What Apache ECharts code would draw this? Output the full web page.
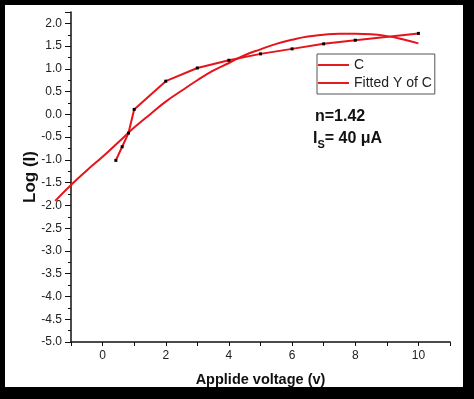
<!DOCTYPE html>
<html>
<head>
<meta charset="utf-8">
<script src="https://cdn.jsdelivr.net/npm/echarts@6/dist/echarts.min.js"></script>
<style>
  html, body { margin: 0; padding: 0; background: #000; }
  #main { width: 474px; height: 399px; }
</style>
</head>
<body>
<div id="main"></div>
<script>
// measured points (C)
var cX = [0.42, 0.62, 0.82, 1.0, 2.0, 3.0, 4.0, 5.0, 6.0, 7.0, 8.0, 10.0];
var cY = [-1.01, -0.71, -0.41, 0.11, 0.73, 1.02, 1.19, 1.33, 1.44, 1.55, 1.63, 1.78];
// fitted curve (Fitted Y of C)
var fitX = [-1.5, -1, -0.5, 0, 0.5, 1, 1.5, 2, 2.5, 3, 3.5, 4, 4.5, 5, 5.5, 6, 6.5, 7, 7.5, 8, 8.5, 9, 9.5, 10];
var fitY = [-1.90, -1.55, -1.23, -0.93, -0.61, -0.29, 0.00, 0.28, 0.52, 0.75, 0.96, 1.13, 1.30, 1.43, 1.55, 1.64, 1.71, 1.75, 1.77, 1.77, 1.76, 1.72, 1.65, 1.56];

var names = ['C', 'Fitted Y of C'];
var red = '#e5141b';

function pairs(xs, ys) {
  var out = [];
  for (var i = 0; i < xs.length; i++) out.push([xs[i], ys[i]]);
  return out;
}

var chart = echarts.init(document.getElementById('main'));
var lineIcon = 'path://M0,0H32V2H0Z';
var option = {
  backgroundColor: '#000',
  animation: false,
  textStyle: { fontFamily: 'Liberation Sans, Arial, sans-serif' },
  graphic: [
    {
      type: 'rect', left: 5, top: 5, z: -10,
      shape: { width: 458, height: 382 },
      style: { fill: '#fff' }
    },
    {
      type: 'text', left: 315, top: 109, z: 10,
      style: { text: 'n=1.42', font: 'bold 16px Liberation Sans, Arial', fill: '#111' }
    },
    {
      type: 'text', left: 313, top: 131, z: 10,
      style: {
        text: '{a|I}{s|S}{a|= 40 μA}',
        rich: {
          a: { font: 'bold 16px Liberation Sans, Arial', fill: '#111', verticalAlign: 'top' },
          s: { font: 'bold 11px Liberation Sans, Arial', fill: '#111', padding: [8, 0, 0, 0] }
        }
      }
    }
  ],
  legend: {
    data: [
      { name: names[0], icon: lineIcon, itemStyle: { color: red } },
      { name: names[1], icon: lineIcon, itemStyle: { color: red } }
    ],
    orient: 'vertical',
    left: 317,
    top: 54,
    padding: [3, 3, 3, 1],
    itemGap: 2,
    itemWidth: 31,
    itemHeight: 2,
    borderColor: '#555',
    borderWidth: 1,
    backgroundColor: '#fff',
    textStyle: { fontSize: 14, color: '#222', lineHeight: 16 }
  },
  grid: [
    { left: 71, right: 24, top: 12, bottom: 57 },
    // same scale as grid 0, shifted half a unit left so the fit can run past the axis
    { left: 55.2, right: 24, top: 12, bottom: 57 }
  ],
  xAxis: [{
    type: 'value',
    min: -1, max: 11, interval: 1,
    name: 'Applide voltage (v)',
    nameLocation: 'middle',
    nameGap: 30,
    nameTextStyle: { fontSize: 14.5, fontWeight: 'bold', color: '#111' },
    splitLine: { show: false },
    axisLine: { onZero: false, lineStyle: { color: '#111', width: 1.5 } },
    axisTick: { length: 4, lineStyle: { color: '#111' } },
    axisLabel: {
      color: '#222', fontSize: 12, margin: 8,
      formatter: function (v) { return v % 2 === 0 ? String(v) : ''; }
    }
  }, {
    type: 'value', gridIndex: 1, show: false,
    min: -1.5, max: 11
  }],
  yAxis: [{
    type: 'value',
    min: -5, max: 2.25, interval: 0.5,
    name: 'Log (I)',
    nameLocation: 'middle',
    nameGap: 32,
    nameMoveOverlap: false,
    nameTextStyle: { fontSize: 17, fontWeight: 'bold', color: '#111' },
    splitLine: { show: false },
    axisLine: { show: true, onZero: false, lineStyle: { color: '#111', width: 1.5 } },
    axisTick: { show: true, length: 6, lineStyle: { color: '#111' } },
    minorTick: { show: true, splitNumber: 2, length: 3, lineStyle: { color: '#111' } },
    axisLabel: {
      color: '#222', fontSize: 12, margin: 9,
      formatter: function (v) { return Math.abs(v % 0.5) > 1e-9 ? '' : v.toFixed(1); }
    }
  }, {
    type: 'value', gridIndex: 1, show: false,
    min: -5, max: 2.25
  }],
  series: [
    {
      name: names[0],
      type: 'line',
      data: pairs(cX, cY),
      symbol: 'rect',
      symbolSize: 3,
      itemStyle: { color: '#000' },
      lineStyle: { color: red, width: 2 },
      z: 3
    },
    {
      name: names[1],
      type: 'line',
      xAxisIndex: 1,
      yAxisIndex: 1,
      data: pairs(fitX, fitY),
      smooth: true,
      symbol: 'none',
      itemStyle: { color: red },
      lineStyle: { color: red, width: 2 },
      z: 2
    }
  ]
};
chart.setOption(option);
</script>
</body>
</html>
